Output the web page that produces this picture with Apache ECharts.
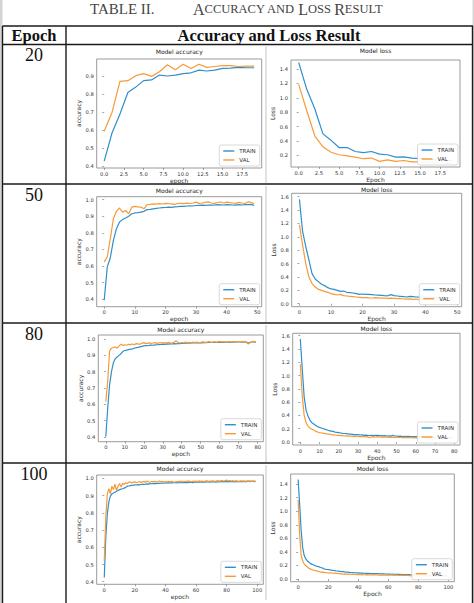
<!DOCTYPE html>
<html>
<head>
<meta charset="utf-8">
<script src="https://cdn.jsdelivr.net/npm/echarts@6/dist/echarts.min.js"></script>
<style>
html, body { margin: 0; padding: 0; background: #fff; }
#main { width: 474px; height: 603px; }
</style>
</head>
<body>
<div id="main"></div>
<script>
// ---- data ----
var epochLabels = ['20', '50', '80', '100'];

var acc20Train = [0.426,0.585,0.69,0.81,0.84,0.876,0.88,0.907,0.902,0.907,0.915,0.92,0.935,0.93,0.935,0.945,0.946,0.95,0.948,0.948];
var acc20Val = [0.593,0.70,0.872,0.876,0.904,0.915,0.90,0.926,0.965,0.937,0.968,0.944,0.968,0.95,0.955,0.96,0.96,0.955,0.957,0.957];
var loss20Train = [1.49,1.118,0.845,0.50,0.41,0.31,0.31,0.255,0.24,0.255,0.218,0.21,0.177,0.18,0.164,0.155,0.145,0.14,0.135,0.13];
var loss20Val = [1.186,0.82,0.47,0.32,0.245,0.21,0.195,0.177,0.155,0.164,0.118,0.14,0.118,0.13,0.11,0.11,0.1,0.1,0.095,0.09];

var acc50Train = [0.394,0.595,0.65,0.755,0.825,0.865,0.88,0.89,0.90,0.915,
  0.92,0.922,0.925,0.93,0.94,0.942,0.945,0.948,0.95,0.952,
  0.953,0.955,0.954,0.957,0.958,0.96,0.96,0.962,0.963,0.962,
  0.965,0.966,0.967,0.966,0.968,0.967,0.968,0.97,0.969,0.968,
  0.97,0.969,0.968,0.967,0.97,0.968,0.971,0.97,0.972,0.965];
var acc50Val = [0.625,0.655,0.765,0.885,0.93,0.95,0.925,0.935,0.915,0.955,
  0.96,0.957,0.955,0.945,0.97,0.972,0.975,0.973,0.976,0.974,
  0.978,0.976,0.975,0.972,0.977,0.978,0.976,0.979,0.977,0.98,
  0.985,0.978,0.98,0.984,0.987,0.98,0.978,0.983,0.986,0.98,
  0.985,0.982,0.98,0.978,0.984,0.98,0.977,0.988,0.983,0.975];
var loss50Train = [1.56,1.08,0.855,0.655,0.45,0.37,0.33,0.29,0.27,0.24,
  0.22,0.215,0.2,0.185,0.19,0.17,0.165,0.16,0.15,0.14,
  0.145,0.14,0.138,0.135,0.13,0.128,0.125,0.12,0.118,0.135,
  0.12,0.115,0.11,0.105,0.1,0.11,0.105,0.1,0.098,0.1,
  0.095,0.1,0.093,0.09,0.095,0.09,0.088,0.09,0.085,0.088];
var loss50Val = [1.18,0.88,0.6,0.40,0.30,0.25,0.215,0.2,0.185,0.17,
  0.15,0.14,0.13,0.14,0.12,0.115,0.11,0.105,0.1,0.095,
  0.09,0.092,0.088,0.085,0.09,0.087,0.083,0.085,0.08,0.082,
  0.08,0.075,0.078,0.07,0.068,0.072,0.065,0.07,0.062,0.065,
  0.063,0.06,0.062,0.058,0.06,0.057,0.06,0.055,0.058,0.056];

var acc80Train = [0.40,0.575,0.72,0.80,0.855,0.88,0.89,0.90,0.91,0.925,
  0.93,0.932,0.935,0.938,0.94,0.944,0.947,0.949,0.952,0.955,
  0.958,0.96,0.959,0.961,0.963,0.962,0.964,0.965,0.966,0.967,
  0.969,0.968,0.97,0.969,0.971,0.97,0.972,0.971,0.973,0.972,
  0.975,0.974,0.975,0.976,0.975,0.977,0.976,0.977,0.978,0.977,
  0.978,0.977,0.979,0.978,0.979,0.98,0.979,0.98,0.979,0.98,
  0.981,0.98,0.981,0.98,0.982,0.981,0.98,0.982,0.981,0.982,
  0.983,0.982,0.981,0.983,0.982,0.975,0.98,0.982,0.983,0.98];
var acc80Val = [0.617,0.74,0.928,0.944,0.948,0.952,0.944,0.958,0.969,0.96,
  0.965,0.962,0.968,0.966,0.97,0.965,0.972,0.97,0.968,0.974,
  0.978,0.972,0.975,0.977,0.973,0.976,0.978,0.974,0.977,0.979,
  0.975,0.978,0.976,0.98,0.977,0.975,0.98,0.99,0.978,0.976,
  0.979,0.977,0.981,0.978,0.98,0.976,0.982,0.979,0.981,0.978,
  0.98,0.983,0.981,0.979,0.985,0.982,0.98,0.984,0.981,0.983,
  0.986,0.982,0.984,0.981,0.983,0.985,0.982,0.984,0.983,0.985,
  0.984,0.982,0.986,0.983,0.98,0.97,0.978,0.984,0.986,0.983];
var loss80Train = [1.55,1.1,0.68,0.48,0.39,0.33,0.29,0.27,0.25,0.23,
  0.22,0.21,0.2,0.19,0.18,0.17,0.165,0.16,0.15,0.145,
  0.14,0.135,0.13,0.128,0.125,0.12,0.118,0.115,0.112,0.11,
  0.11,0.105,0.108,0.1,0.104,0.1,0.098,0.102,0.097,0.1,
  0.1,0.095,0.097,0.092,0.095,0.09,0.093,0.088,0.1,0.09,
  0.09,0.085,0.088,0.083,0.086,0.082,0.085,0.08,0.083,0.08,
  0.08,0.078,0.08,0.076,0.079,0.075,0.078,0.074,0.077,0.073,
  0.075,0.072,0.074,0.071,0.073,0.07,0.072,0.069,0.071,0.07];
var loss80Val = [1.17,0.70,0.40,0.29,0.24,0.21,0.19,0.18,0.16,0.15,
  0.14,0.135,0.13,0.125,0.12,0.12,0.11,0.108,0.105,0.1,
  0.1,0.095,0.097,0.09,0.093,0.088,0.09,0.085,0.088,0.084,
  0.085,0.082,0.08,0.083,0.078,0.08,0.065,0.078,0.08,0.075,
  0.08,0.076,0.074,0.077,0.072,0.075,0.07,0.073,0.068,0.072,
  0.07,0.068,0.071,0.066,0.069,0.065,0.068,0.064,0.067,0.063,
  0.065,0.062,0.066,0.06,0.064,0.062,0.065,0.06,0.063,0.061,
  0.062,0.06,0.063,0.058,0.061,0.059,0.062,0.058,0.06,0.059];

var acc100Train = [0.425,0.66,0.795,0.864,0.897,0.91,0.915,0.92,0.925,0.93,
  0.935,0.938,0.94,0.944,0.948,0.955,0.956,0.958,0.96,0.961,
  0.963,0.962,0.964,0.963,0.965,0.966,0.965,0.967,0.968,0.967,
  0.97,0.969,0.97,0.971,0.97,0.972,0.971,0.972,0.973,0.972,
  0.975,0.973,0.974,0.975,0.974,0.976,0.975,0.974,0.976,0.975,
  0.976,0.975,0.977,0.976,0.977,0.976,0.978,0.977,0.976,0.978,
  0.98,0.978,0.979,0.98,0.979,0.98,0.979,0.981,0.98,0.979,
  0.98,0.981,0.98,0.979,0.981,0.98,0.982,0.981,0.98,0.982,
  0.981,0.98,0.982,0.981,0.982,0.98,0.983,0.982,0.981,0.983,
  0.982,0.981,0.983,0.982,0.984,0.982,0.983,0.984,0.982,0.983];
var acc100Val = [0.522,0.776,0.91,0.94,0.91,0.955,0.935,0.967,0.93,0.955,
  0.97,0.95,0.972,0.965,0.975,0.97,0.978,0.98,0.974,0.979,
  0.98,0.976,0.978,0.982,0.977,0.98,0.983,0.978,0.985,0.98,
  0.978,0.982,0.98,0.984,0.979,0.982,0.985,0.98,0.983,0.979,
  0.982,0.98,0.984,0.981,0.983,0.98,0.978,0.982,0.98,0.984,
  0.982,0.985,0.981,0.984,0.982,0.986,0.983,0.981,0.985,0.983,
  0.984,0.982,0.986,0.983,0.985,0.982,0.984,0.986,0.983,0.985,
  0.984,0.986,0.983,0.985,0.987,0.984,0.986,0.988,0.985,0.987,
  0.99,0.986,0.988,0.985,0.987,0.984,0.986,0.985,0.983,0.986,
  0.984,0.986,0.983,0.985,0.984,0.986,0.983,0.985,0.984,0.983];
var loss100Train = [1.47,1.11,0.72,0.47,0.35,0.30,0.27,0.25,0.23,0.22,
  0.21,0.2,0.19,0.185,0.178,0.17,0.165,0.15,0.145,0.142,
  0.14,0.135,0.13,0.128,0.125,0.12,0.118,0.115,0.112,0.11,
  0.11,0.105,0.102,0.1,0.098,0.096,0.095,0.093,0.092,0.09,
  0.09,0.088,0.087,0.086,0.085,0.084,0.083,0.082,0.081,0.08,
  0.08,0.079,0.078,0.078,0.077,0.076,0.075,0.075,0.074,0.073,
  0.073,0.072,0.07,0.071,0.07,0.069,0.068,0.068,0.067,0.066,
  0.066,0.065,0.064,0.064,0.063,0.062,0.062,0.061,0.06,0.06,
  0.059,0.058,0.058,0.057,0.056,0.056,0.055,0.055,0.054,0.054,
  0.053,0.053,0.052,0.052,0.051,0.051,0.05,0.05,0.05,0.049];
var loss100Val = [1.17,0.67,0.35,0.27,0.22,0.2,0.18,0.16,0.15,0.14,
  0.13,0.125,0.12,0.115,0.11,0.1,0.105,0.098,0.095,0.092,
  0.09,0.088,0.092,0.085,0.087,0.083,0.085,0.08,0.078,0.075,
  0.07,0.075,0.072,0.068,0.073,0.07,0.066,0.07,0.067,0.065,
  0.064,0.066,0.062,0.065,0.063,0.061,0.064,0.06,0.063,0.061,
  0.06,0.062,0.059,0.061,0.058,0.06,0.057,0.059,0.056,0.058,
  0.057,0.055,0.058,0.056,0.054,0.057,0.055,0.053,0.056,0.054,
  0.053,0.055,0.052,0.054,0.051,0.053,0.05,0.052,0.05,0.051,
  0.05,0.048,0.05,0.047,0.049,0.046,0.048,0.046,0.047,0.045,
  0.046,0.044,0.046,0.044,0.045,0.043,0.045,0.043,0.044,0.042];

// tick labels
var xTicks20 = [0, 2.5, 5, 7.5, 10, 12.5, 15, 17.5];
var xTicks50 = [0, 10, 20, 30, 40, 50];
var xTicks80 = [0, 10, 20, 30, 40, 50, 60, 70, 80];
var xTicks100 = [0, 20, 40, 60, 80, 100];
var accTicks20 = [0.4, 0.5, 0.6, 0.7, 0.8, 0.9];
var accTicks = [0.4, 0.5, 0.6, 0.7, 0.8, 0.9, 1.0];
var lossTicks20 = [0.2, 0.4, 0.6, 0.8, 1.0, 1.2, 1.4];
var lossTicks16 = [0.0, 0.2, 0.4, 0.6, 0.8, 1.0, 1.2, 1.4, 1.6];
var lossTicks14 = [0.0, 0.2, 0.4, 0.6, 0.8, 1.0, 1.2, 1.4];

var BLUE = '#2e8fcc';
var ORANGE = '#f89a35';

// one entry per small matplotlib figure (ty = centre of its title)
var panels = [
  { title: 'Model accuracy', xName: 'epoch', yName: 'accuracy', train: acc20Train, val: acc20Val,
    x: [-0.95, 19.95], y: [0.388, 0.997], xt: xTicks20, yt: accTicks20, xd: 1, box: [96.7, 59, 165, 109], ty: 52 },
  { title: 'Model loss', xName: 'Epoch', yName: 'Loss', train: loss20Train, val: loss20Val,
    x: [-0.95, 19.95], y: [0.04, 1.525], xt: xTicks20, yt: lossTicks20, xd: 1, box: [291, 60, 169, 107], ty: 51 },
  { title: 'Model accuracy', xName: 'epoch', yName: 'accuracy', train: acc50Train, val: acc50Val,
    x: [-2.45, 51.45], y: [0.355, 1.018], xt: xTicks50, yt: accTicks, xd: 0, box: [96.7, 196.7, 165, 110], ty: 191 },
  { title: 'Model loss', xName: 'Epoch', yName: 'Loss', train: loss50Train, val: loss50Val,
    x: [-2.45, 51.45], y: [-0.045, 1.65], xt: xTicks50, yt: lossTicks16, xd: 0, box: [291.7, 193.3, 170, 113.4], ty: 189.5 },
  { title: 'Model accuracy', xName: 'epoch', yName: 'accuracy', train: acc80Train, val: acc80Val,
    x: [-3.95, 82.95], y: [0.37, 1.025], xt: xTicks80, yt: accTicks, xd: 0, box: [98.3, 335, 165, 106.7], ty: 330 },
  { title: 'Model loss', xName: 'Epoch', yName: 'Loss', train: loss80Train, val: loss80Val,
    x: [-3.95, 82.95], y: [-0.045, 1.635], xt: xTicks80, yt: lossTicks16, xd: 0, box: [292.7, 333.3, 167.3, 111.7], ty: 329 },
  { title: 'Model accuracy', xName: 'epoch', yName: 'accuracy', train: acc100Train, val: acc100Val,
    x: [-4.95, 103.95], y: [0.385, 1.02], xt: xTicks100, yt: accTicks, xd: 0, box: [96.7, 475, 166.6, 109.3], ty: 469.3 },
  { title: 'Model loss', xName: 'Epoch', yName: 'Loss', train: loss100Train, val: loss100Val,
    x: [-4.95, 103.95], y: [-0.04, 1.55], xt: xTicks100, yt: lossTicks14, xd: 0, box: [290.7, 474, 163.6, 107.7], ty: 469.3 }
];

function pairs(arr) {
  return arr.map(function (v, i) { return [i, v]; });
}

var chart = echarts.init(document.getElementById('main'), null, { renderer: 'svg' });

var grids = [], xAxes = [], yAxes = [], series = [], legends = [], titles = [], gfx = [];
var smallFont = { fontFamily: 'DejaVu Sans', fontSize: 5.2, color: '#333' };

// page edges and table lines
gfx.push({ type: 'rect', shape: { x: 0, y: 0, width: 2.5, height: 603 }, style: { fill: '#d4d4d4' } });
gfx.push({ type: 'rect', shape: { x: 472.5, y: 0, width: 1.5, height: 603 }, style: { fill: '#d4d4d4' } });
var rowTops = [44.5, 184, 323, 463];
var lines = [
  [2.5, 26, 473, 26], [2.5, 44.5, 473, 44.5],
  [2.5, 184, 473, 184], [2.5, 323, 473, 323], [2.5, 463, 473, 463],
  [2.5, 26, 2.5, 603], [66, 26, 66, 603], [472.5, 26, 472.5, 603]
];
lines.forEach(function (l) {
  gfx.push({ type: 'line', shape: { x1: l[0], y1: l[1], x2: l[2], y2: l[3] },
    style: { stroke: '#1a1a1a', lineWidth: 1.4 } });
});
// faint borders of the embedded figures
rowTops.forEach(function (t, r) {
  var b = r < 3 ? rowTops[r + 1] : 601;
  gfx.push({ type: 'line', shape: { x1: 266, y1: t + 2, x2: 266, y2: b - 1 },
    style: { stroke: '#c4c4c4', lineWidth: 1 } });
});

// table caption
titles.push({ text: 'TABLE II.', left: 90, top: 1, padding: 0,
  textStyle: { fontFamily: 'Liberation Serif', fontSize: 15, fontWeight: 'normal', color: '#444' } });
titles.push({ text: '{b|A}{s|CCURACY AND }{b|L}{s|OSS }{b|R}{s|ESULT}', left: 193, top: 1, padding: 0,
  textStyle: {
    color: '#444', fontWeight: 'normal',
    rich: {
      b: { fontSize: 16, fontFamily: 'Liberation Serif', fontWeight: 'normal', color: '#444' },
      s: { fontSize: 12.5, fontFamily: 'Liberation Serif', fontWeight: 'normal', color: '#444' }
    }
  } });

// header row
gfx.push({ type: 'text', x: 34, y: 35.5,
  style: { text: 'Epoch', font: 'bold 16.5px "Liberation Serif"', fill: '#111',
    align: 'center', textAlign: 'center', verticalAlign: 'middle', textVerticalAlign: 'middle' } });
gfx.push({ type: 'text', x: 269, y: 35.5,
  style: { text: 'Accuracy and Loss Result', font: 'bold 16.5px "Liberation Serif"', fill: '#111',
    align: 'center', textAlign: 'center', verticalAlign: 'middle', textVerticalAlign: 'middle' } });

// epoch numbers
epochLabels.forEach(function (lab, r) {
  gfx.push({ type: 'text', x: 34, y: rowTops[r] + 10.5,
    style: { text: lab, font: '18px "Liberation Serif"', fill: '#111',
      align: 'center', textAlign: 'center', verticalAlign: 'middle', textVerticalAlign: 'middle' } });
});

panels.forEach(function (p, i) {
  var L = p.box[0], T = p.box[1], W = p.box[2], H = p.box[3];
  grids.push({ left: L, top: T, width: W, height: H, show: true,
    borderColor: '#808080', borderWidth: 0.8, backgroundColor: '#fff' });

  xAxes.push({
    gridIndex: i, type: 'value', min: p.x[0], max: p.x[1],
    axisLine: { show: false },
    axisTick: { show: true, customValues: p.xt, length: 2, lineStyle: { color: '#666', width: 0.6 } },
    axisLabel: { customValues: p.xt, margin: 3, formatter: function (v) { return v.toFixed(p.xd); },
      fontFamily: smallFont.fontFamily, fontSize: smallFont.fontSize, color: smallFont.color },
    splitLine: { show: false },
    name: p.xName, nameLocation: 'middle', nameGap: 9,
    nameTextStyle: { fontFamily: 'DejaVu Sans', fontSize: 6, color: '#333' }
  });
  yAxes.push({
    gridIndex: i, type: 'value', min: p.y[0], max: p.y[1],
    axisLine: { show: false },
    axisTick: { show: true, customValues: p.yt, length: 2, lineStyle: { color: '#666', width: 0.6 } },
    axisLabel: { customValues: p.yt, margin: 3, formatter: function (v) { return v.toFixed(1); },
      fontFamily: smallFont.fontFamily, fontSize: smallFont.fontSize, color: smallFont.color },
    splitLine: { show: false },
    name: p.yName, nameLocation: 'middle', nameGap: 15,
    nameTextStyle: { fontFamily: 'DejaVu Sans', fontSize: 6, color: '#333' }
  });

  series.push({ name: 'TRAIN', type: 'line', xAxisIndex: i, yAxisIndex: i, data: pairs(p.train),
    showSymbol: false, lineStyle: { color: BLUE, width: 1.2 }, itemStyle: { color: BLUE }, z: 2 });
  series.push({ name: 'VAL', type: 'line', xAxisIndex: i, yAxisIndex: i, data: pairs(p.val),
    showSymbol: false, lineStyle: { color: ORANGE, width: 1.2 }, itemStyle: { color: ORANGE }, z: 3 });

  legends.push({
    data: ['TRAIN', 'VAL'], orient: 'vertical', selectedMode: false,
    right: 474 - (L + W) + 2, bottom: 603 - (T + H) + 2,
    icon: 'rect', itemWidth: 11, itemHeight: 1.4, itemGap: 3,
    padding: [3, 4, 3, 4], borderColor: '#cfcfcf', borderWidth: 0.8, borderRadius: 2,
    backgroundColor: 'rgba(255,255,255,0.9)',
    textStyle: { fontFamily: 'DejaVu Sans', fontSize: 5.5, color: '#333' }
  });

  titles.push({ text: p.title, left: L + W / 2, top: p.ty - 3.5, textAlign: 'center', padding: 0,
    textStyle: { fontFamily: 'DejaVu Sans', fontSize: 6, fontWeight: 'normal', color: '#222' } });
});

var option = {
  animation: false,
  backgroundColor: '#fff',
  title: titles,
  grid: grids,
  xAxis: xAxes,
  yAxis: yAxes,
  legend: legends,
  series: series,
  graphic: { elements: gfx }
};
chart.setOption(option);
</script>
</body>
</html>
